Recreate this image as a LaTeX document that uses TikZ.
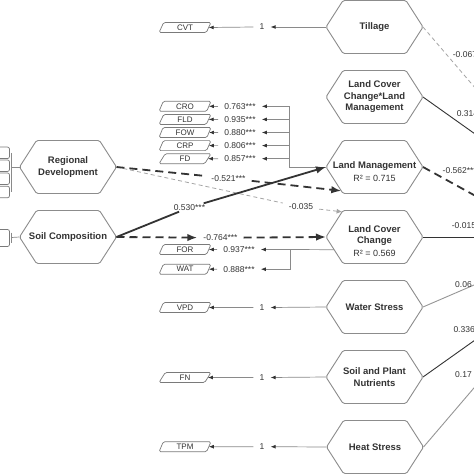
\documentclass[tikz,border=0pt]{standalone}
\usepackage{fontspec}
\setmainfont{Liberation Sans}
\usetikzlibrary{arrows.meta,shapes.geometric,calc}
\definecolor{txt}{HTML}{333333}
\definecolor{hexc}{HTML}{8C8C8C}
\definecolor{boxc}{HTML}{7A7A7A}
\definecolor{lineg}{HTML}{8A8A8A}
\definecolor{dark}{HTML}{333333}
\definecolor{lightg}{HTML}{A5A5A5}
\newcommand{\myhex}[5]{%
  \node[hexbox] (#1) at (#2,#3) {};
  \draw[hexline] (#1.west) -- ([xshift=17pt]#1.north west) -- ([xshift=-17pt]#1.north east)
     -- (#1.east) -- ([xshift=-17pt]#1.south east) -- ([xshift=17pt]#1.south west) -- cycle;
  \node[hextxt] (#1-t) at ([yshift=#5]#1.center) {#4};}
\begin{document}
\begin{tikzpicture}[x=1pt,y=-1pt,
  hexbox/.style={rectangle, minimum width=97pt, minimum height=53pt, inner sep=0pt, outer sep=0pt},
  hexline/.style={draw=hexc, line width=0.9pt, rounded corners=1.5pt},
  hextxt/.style={font=\fontsize{9.5}{11.5}\selectfont\bfseries, text=txt, align=center, inner sep=0pt},
  ind/.style={trapezium, trapezium left angle=73, trapezium right angle=107, trapezium stretches=true,
     minimum width=52pt, minimum height=10pt, draw=boxc, line width=0.7pt, rounded corners=1.5pt,
     inner sep=0pt, outer sep=0pt, font=\fontsize{8}{9}\selectfont, text=txt},
  cutbox/.style={rectangle, draw=boxc, line width=0.7pt, rounded corners=2pt, minimum width=50pt, inner sep=0pt},
  lab/.style={font=\fontsize{8.5}{10}\selectfont, text=txt, inner xsep=6pt, inner ysep=2pt},
  rlab/.style={font=\fontsize{8.5}{10}\selectfont, text=txt, inner sep=0pt, anchor=west},
  indline/.style={draw=lineg, line width=0.7pt},
  indarr/.style={indline, -{Latex[length=5pt,width=3.8pt,color=dark]}},
  thkdash/.style={draw=dark, line width=1.8pt, dash pattern=on 8pt off 5pt},
  thndash/.style={draw=lightg, line width=0.8pt, dash pattern=on 4pt off 3pt},
  thksolid/.style={draw=dark, line width=1.8pt},
  thindark/.style={draw=dark, line width=0.9pt},
  thingray/.style={draw=lineg!90, line width=0.9pt},
  bigarr/.style={-{Latex[length=10pt,width=7.5pt]}},
  smallarr/.style={-{Latex[length=5.5pt,width=5pt]}}
]
\useasboundingbox (0,0) rectangle (474,474);
\fill[white] (0,0) rectangle (474,474);
\clip (0,0) rectangle (474,474);

% hexagons
\myhex{Til}{374.5}{27}{Tillage}{0pt}
\myhex{LCLM}{374.5}{97}{Land Cover\\Change*Land\\Management}{0pt}
\myhex{LM}{374.5}{167}{Land Management\\[1.5pt]{\mdseries\fontsize{9}{11}\selectfont R² = 0.715}}{-5pt}
\myhex{LCC}{374.5}{237}{Land Cover\\Change\\[1pt]{\mdseries\fontsize{9}{11}\selectfont R² = 0.569}}{-4pt}
\myhex{WS}{374.5}{307}{Water Stress}{0pt}
\myhex{SPN}{374.5}{377}{Soil and Plant\\Nutrients}{0pt}
\myhex{HS}{375}{447}{Heat Stress}{0pt}
\myhex{RD}{68}{167}{Regional\\Development}{0pt}
\myhex{SC}{68}{237}{Soil Composition}{0pt}

% single indicators
\node[ind] (CVT) at (185,27.5) {CVT};
\node[ind] (VPD) at (185,307.5) {VPD};
\node[ind] (FN) at (185,377.5) {FN};
\node[ind] (TPM) at (185,446.7) {TPM};
\node[lab] (l1a) at (262,27) {1};
\node[lab] (l1b) at (262,307.5) {1};
\node[lab] (l1c) at (262,377.5) {1};
\node[lab] (l1d) at (262,446.7) {1};
\draw[indarr] (Til.west) -- (l1a.east);
\draw[indarr] (l1a.west) -- (CVT.east);
\draw[indarr] (WS.west) -- (l1b.east);
\draw[indarr] (l1b.west) -- (VPD.east);
\draw[indarr] (SPN.west) -- (l1c.east);
\draw[indarr] (l1c.west) -- (FN.east);
\draw[indarr] (HS.west) -- (l1d.east);
\draw[indarr] (l1d.west) -- (TPM.east);

% land management indicators
\node[ind] (CRO) at (185,106.3) {CRO};
\node[ind] (FLD) at (185,119.4) {FLD};
\node[ind] (FOW) at (185,132.5) {FOW};
\node[ind] (CRP) at (185,145.6) {CRP};
\node[ind] (FD) at (185,158.7) {FD};
\node[lab] (lCRO) at (240,106.3) {0.763***};
\node[lab] (lFLD) at (240,119.4) {0.935***};
\node[lab] (lFOW) at (240,132.5) {0.880***};
\node[lab] (lCRP) at (240,145.6) {0.806***};
\node[lab] (lFD) at (240,158.7) {0.857***};
\coordinate (lmb) at (289,167);
\coordinate (lmt) at (289,106.3);
\draw[indline] (LM.west) -- (lmb) -- (lmt);
\draw[indarr] (lmt) -- (lCRO.east);
\draw[indarr] (lmb |- lFLD) -- (lFLD.east);
\draw[indarr] (lmb |- lFOW) -- (lFOW.east);
\draw[indarr] (lmb |- lCRP) -- (lCRP.east);
\draw[indarr] (lmb |- lFD) -- (lFD.east);
\foreach \n in {CRO,FLD,FOW,CRP,FD}{\draw[indarr] (l\n.west) -- (\n.east);}

% land cover change indicators
\node[ind] (FOR) at (185,249.5) {FOR};
\node[ind] (WAT) at (185,269.2) {WAT};
\node[lab] (lFOR) at (239,249.5) {0.937***};
\node[lab] (lWAT) at (239,269.2) {0.888***};
\coordinate (lccp) at ($(LCC.west)!0.48!([xshift=17pt]LCC.south west)$);
\coordinate (lccb) at (290,249.5);
\draw[indline] (lccp) -- (lccb);
\draw[indarr] (lccb) -- (lFOR.east);
\draw[indarr] (lccb) |- (lWAT.east);
\draw[indarr] (lFOR.west) -- (FOR.east);
\draw[indarr] (lWAT.west) -- (WAT.east);

% cut-off boxes on the left
\node[cutbox, minimum height=11.5pt] (rd1) at (-15.5,152.8) {};
\node[cutbox, minimum height=11.5pt] (rd2) at (-15.5,165.7) {};
\node[cutbox, minimum height=11.5pt] (rd3) at (-15.5,178.7) {};
\node[cutbox, minimum height=11.5pt] (rd4) at (-15.5,192) {};
\node[cutbox, minimum height=17pt] (sc1) at (-15.5,238) {};
\coordinate (rdb) at (11.5,167);
\coordinate (scb) at (11.5,237.5);
\draw[indline] (RD.west) -- (rdb);
\draw[indline] (rd1.east -| rdb) -- (rd4.east -| rdb);
\draw[indline] (SC.west) -- (scb);
\draw[indline] ([yshift=5pt]scb) -- ([yshift=-5pt]scb);

% structural paths (left)
\node[lab, inner ysep=1pt] (l521) at (228.5,178.3) {-0.521***};
\node[lab, inner ysep=1pt] (l035) at (301,207) {-0.035};
\node[lab, inner ysep=1pt] (l530) at (189.5,207.5) {0.530***};
\node[lab, inner ysep=1pt] (l764) at (220.5,237.6) {-0.764***};
\coordinate (lmp) at ($(LM.west)!0.9!([xshift=17pt]LM.south west)$);
\coordinate (lcct) at ($(LCC.west)!0.95!([xshift=17pt]LCC.north west)$);
\draw[thndash] (RD.east) -- (l035);
\draw[thndash, smallarr] (l035) -- (lcct);
\draw[thkdash] (RD.east) -- (l521);
\draw[thkdash, bigarr] (l521) -- (lmp);
\draw[thksolid] (SC.east) -- (l530);
\draw[thksolid, bigarr] (l530) -- (LM.west);
\draw[thkdash, bigarr] (SC.east) -- (l764.west);
\draw[thkdash, bigarr] (l764.east) -- (LCC.west);

% structural paths (right, running off the edge)
\coordinate (e1) at (500,117);
\coordinate (e2) at (500,151.7);
\coordinate (e3) at (500,209.4);
\coordinate (e4) at (500,237);
\coordinate (e5) at (500,273.8);
\coordinate (e6) at (500,322.3);
\coordinate (e7) at (500,357.5);
\draw[thndash] (Til.east) -- (e1);
\draw[thindark] (LCLM.east) -- (e2);
\draw[thkdash] (LM.east) -- (e3);
\draw[thindark] (LCC.east) -- (e4);
\draw[thingray] (WS.east) -- (e5);
\draw[thindark] (SPN.east) -- (e6);
\draw[thingray] (HS.east) -- (e7);
\node[rlab] (r1) at (452.7,54.5) {-0.067};
\node[rlab] (r2) at (456.7,113.3) {0.314};
\node[rlab] (r3) at (442.5,171) {-0.562***};
\node[rlab] (r4) at (451.7,225.7) {-0.015};
\node[rlab] (r5) at (455,284.5) {0.06};
\node[rlab] (r6) at (453.3,329.5) {0.336};
\node[rlab] (r7) at (455,375) {0.17};
\end{tikzpicture}
\end{document}
